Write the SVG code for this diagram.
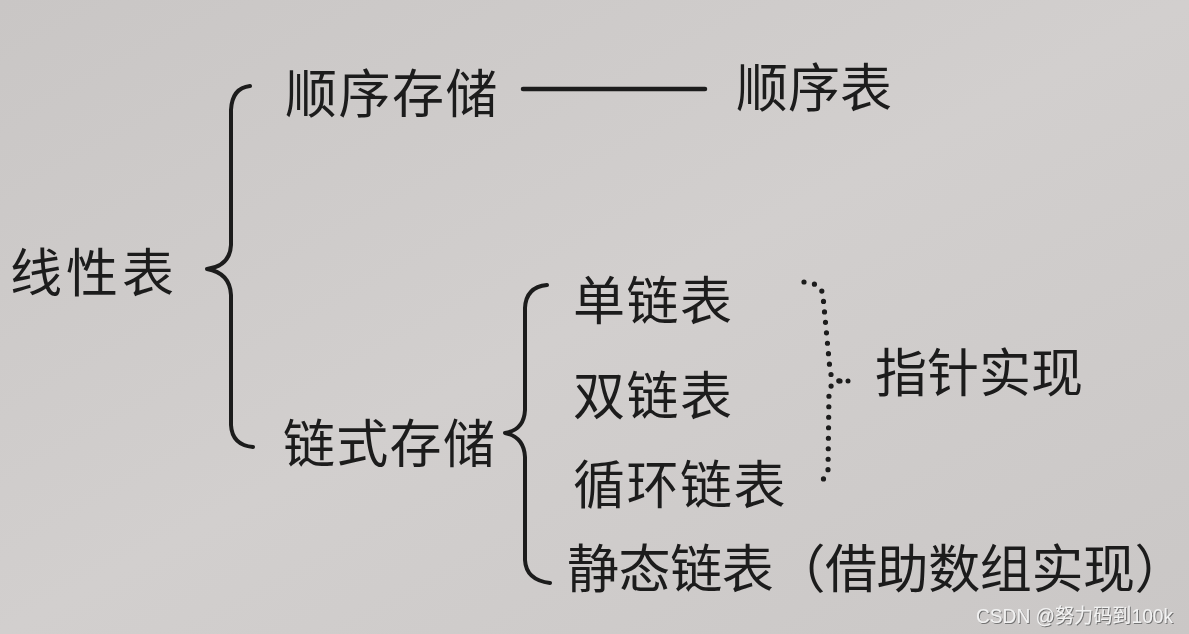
<svg xmlns="http://www.w3.org/2000/svg" width="1189" height="634" viewBox="0 0 1189 634">
<defs>
<linearGradient id="bg" x1="0" y1="0" x2="1" y2="1">
<stop offset="0" stop-color="#c9c6c5"/>
<stop offset="0.5" stop-color="#d2cfce"/>
<stop offset="1" stop-color="#cac7c6"/>
</linearGradient>
<filter id="sh" x="-10%" y="-30%" width="120%" height="160%">
<feDropShadow dx="1" dy="1" stdDeviation="0.6" flood-color="#6a6a6a" flood-opacity="0.9"/>
</filter>
</defs>
<style>
.t{font-family:"Noto Sans CJK SC","Noto Sans",sans-serif;font-size:52px;fill:#1c1c1c;}
.b{fill:none;stroke:#1c1c1c;stroke-width:4;stroke-linecap:round;stroke-linejoin:round;}
.d{fill:none;stroke:#1c1c1c;stroke-width:5.2;stroke-linecap:round;stroke-dasharray:0 10.5;}
.wm{font-family:"Liberation Sans","Noto Sans CJK SC",sans-serif;font-size:20px;fill:#f2f2f2;}
</style>
<rect width="1189" height="634" fill="url(#bg)"/>
<g id="connectors">
<path class="b" d="M250,86 Q232,88 231,110 L231,245 Q230,266 207,269 Q230,273 231,295 L231,425 Q232,445 253,447"/>
<path class="b" d="M547,285 Q526,287 525,308 L525,410 Q524,430 505,433 Q524,437 525,457 L525,560 Q526,580 550,583"/>
<line x1="523" y1="89" x2="705" y2="89" stroke="#1c1c1c" stroke-width="4.5" stroke-linecap="round"/>
<path class="d" d="M804,282 Q822,283 823,296 L830,370 Q831,380 840,381"/>
<path class="d" d="M840,381 Q830,383 829,392 L828,470 Q827,478 820,481"/>
<circle cx="848" cy="381" r="2.5" fill="#1c1c1c"/>
</g>
<g id="n-xianxingbiao"><text class="t" x="10" y="292" letter-spacing="4">线性表</text></g>
<g id="n-shunxucunchu"><text class="t" x="285" y="113" letter-spacing="1.5">顺序存储</text></g>
<g id="n-shunxubiao"><text class="t" x="736" y="107">顺序表</text></g>
<g id="n-lianshicunchu"><text class="t" x="283" y="463" letter-spacing="1.3">链式存储</text></g>
<g id="n-danlianbiao"><text class="t" x="573" y="320" letter-spacing="1.5">单链表</text></g>
<g id="n-shuanglianbiao"><text class="t" x="573" y="415" letter-spacing="1.5">双链表</text></g>
<g id="n-xunhuanlianbiao"><text class="t" x="573" y="504" letter-spacing="1.5">循环链表</text></g>
<g id="n-jingtailianbiao"><text class="t" x="567" y="588" letter-spacing="-0.4">静态链表（借助数组实现）</text></g>
<g id="n-zhizhenshixian"><text class="t" x="875" y="392">指针实现</text></g>
<g id="watermark"><text class="wm" x="976" y="623" textLength="197" lengthAdjust="spacingAndGlyphs" filter="url(#sh)">CSDN @努力码到100k</text></g>
</svg>
